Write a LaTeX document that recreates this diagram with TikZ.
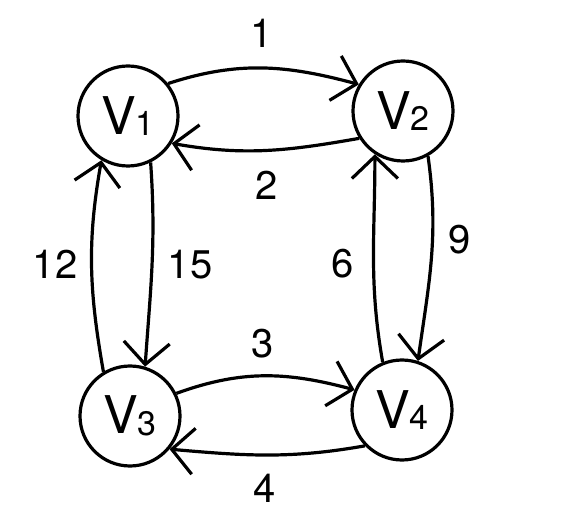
\documentclass[tikz,border=0pt]{standalone}
\usepackage{fontspec}
\setmainfont{TeX Gyre Heros}
\usetikzlibrary{arrows.meta}
\newcommand{\vlab}[1]{{\fontsize{52}{52}\selectfont V}\kern-0.02em\raisebox{-0.18em}{\fontsize{34}{34}\selectfont #1}}
\begin{document}
\begin{tikzpicture}[x=1pt,y=1pt,
  vert/.style={circle,draw,line width=3.2pt,minimum size=100pt,inner sep=0pt},
  edge/.style={line width=3.2pt,-{Straight Barb[length=22pt,width=46pt,line width=3.2pt]}},
  wlab/.style={font=\fontsize{40}{40}\selectfont}]
\useasboundingbox (0,0) rectangle (577,527);
\node[vert] (v1) at (128,411) {\vlab{1}};
\node[vert] (v2) at (403,416) {\vlab{2}};
\node[vert] (v3) at (130,111) {\vlab{3}};
\node[vert] (v4) at (402,117) {\vlab{4}};
\draw[edge] (v1.39) to[out=18,in=165] (v2.149);
\draw[edge] (v2.212) to[out=190,in=350] (v1.328);
\draw[edge] (v1.296) to[out=-86,in=86] (v3.73);
\draw[edge] (v3.121) to[out=100,in=-100] (v1.239);
\draw[edge] (v2.299) to[out=-82,in=82] (v4.72);
\draw[edge] (v4.112) to[out=100,in=-90] (v2.237);
\draw[edge] (v3.26) to[out=20,in=165] (v4.157);
\draw[edge] (v4.224) to[out=190,in=355] (v3.320);
\node[wlab] (w1) at (262,494) {1};
\node[wlab] (w2) at (267,342) {2};
\node[wlab] (w15) at (190,262) {15};
\node[wlab] (w12) at (55,263) {12};
\node[wlab] (w6) at (343,263) {6};
\node[wlab] (w9) at (460,287) {9};
\node[wlab] (w3) at (263,183) {3};
\node[wlab] (w4) at (265,39) {4};
\end{tikzpicture}
\end{document}
